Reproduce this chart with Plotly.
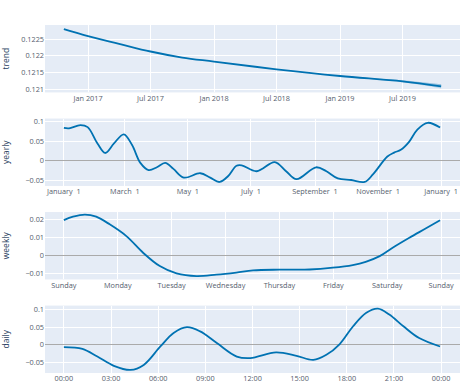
import pandas as pd
import plotly.graph_objects as go
from plotly.subplots import make_subplots

# ---- data ----
trend_dates = ["2016-10-23", "2017-01-01", "2017-04-01", "2017-07-01", "2017-10-01",
               "2018-01-01", "2018-07-01", "2019-01-01", "2019-07-01", "2019-10-21"]
trend_vals = [0.12280, 0.12259, 0.12236, 0.12213, 0.12195,
              0.12183, 0.12160, 0.12140, 0.12124, 0.12109]
trend_upper = [0.12280, 0.12259, 0.12236, 0.12213, 0.12195,
               0.12183, 0.12160, 0.12141, 0.12127, 0.12115]
trend_lower = [0.12280, 0.12259, 0.12236, 0.12213, 0.12195,
               0.12183, 0.12160, 0.12139, 0.12121, 0.12103]

yearly_day = [0, 5, 16, 23, 32.5, 40, 48.5, 58, 66, 74, 82, 90, 98, 106, 116, 132, 141.6,
              150.6, 159, 167, 172, 186.5, 204, 215, 225, 244, 254, 265, 278, 291, 299,
              313, 319.5, 326, 334, 342, 352, 364]
yearly_val = [0.083, 0.082, 0.090, 0.085, 0.044, 0.020, 0.044, 0.067, 0.040, -0.005, -0.023,
              -0.016, -0.005, -0.020, -0.042, -0.031, -0.042, -0.053, -0.038, -0.012,
              -0.011, -0.026, -0.003, -0.026, -0.046, -0.016, -0.026, -0.044, -0.048,
              -0.053, -0.034, 0.011, 0.021, 0.028, 0.048, 0.079, 0.096, 0.084]

weekly_day = [0, 0.17, 0.39, 0.6, 0.85, 1.16, 1.47, 1.78, 2.09, 2.46, 2.83, 3.2, 3.51, 4.0,
              4.56, 4.99, 5.36, 5.6, 5.86, 6.1, 6.41, 6.72, 6.98]
weekly_val = [0.0198, 0.0217, 0.0229, 0.0217, 0.0174, 0.0108, 0.0015, -0.006, -0.0101,
              -0.0116, -0.0108, -0.0096, -0.0084, -0.0080, -0.0079, -0.0069, -0.0054,
              -0.0036, -0.0004, 0.0043, 0.0099, 0.0152, 0.0197]

daily_hour = [0, 1.18, 2.13, 3.18, 4.24, 5.08, 6.14, 6.98, 7.83, 8.67, 9.73, 11.0, 11.86,
              13.5, 14.8, 15.87, 16.7, 17.55, 18.4, 19.24, 19.98, 20.7, 21.6, 22.6, 23.93]
daily_val = [-0.0066, -0.0115, -0.0336, -0.060, -0.0718, -0.0575, -0.0049, 0.0336, 0.050,
             0.038, 0.0049, -0.0336, -0.038, -0.022, -0.0316, -0.043, -0.0287, 0.002,
             0.0526, 0.091, 0.1026, 0.086, 0.0526, 0.019, -0.005]

names = ["trend", "yearly", "weekly", "daily"]

# ---- build ----
start = pd.Timestamp("2017-01-01")
yearly_x = [start + pd.Timedelta(days=d) for d in yearly_day]
weekly_x = [start + pd.Timedelta(days=d) for d in weekly_day]
daily_x = [start + pd.Timedelta(hours=h) for h in daily_hour]
trend_x = pd.to_datetime(trend_dates)

color = "#0072B2"
err = "rgba(0, 114, 178, 0.2)"
lw = 1.8

fig = make_subplots(rows=4, cols=1, vertical_spacing=0.075)

fig.add_trace(go.Scatter(x=trend_x, y=trend_vals, mode="lines",
                         line=dict(color=color, width=lw, shape="spline")), row=1, col=1)
fig.add_trace(go.Scatter(x=trend_x, y=trend_upper, mode="lines",
                         line=dict(color=err, width=0, shape="spline"),
                         fill="tonexty", fillcolor=err, hoverinfo="skip"), row=1, col=1)
fig.add_trace(go.Scatter(x=trend_x, y=trend_lower, mode="lines",
                         line=dict(color=err, width=0, shape="spline"),
                         fill="tonexty", fillcolor=err, hoverinfo="skip"), row=1, col=1)

fig.add_trace(go.Scatter(x=yearly_x, y=yearly_val, mode="lines",
                         line=dict(color=color, width=lw, shape="spline")), row=2, col=1)
fig.add_trace(go.Scatter(x=weekly_x, y=weekly_val, mode="lines",
                         line=dict(color=color, width=lw, shape="spline")), row=3, col=1)
fig.add_trace(go.Scatter(x=daily_x, y=daily_val, mode="lines",
                         line=dict(color=color, width=lw, shape="spline")), row=4, col=1)

def margin_range(xs):
    lo, hi = min(xs), max(xs)
    m = (hi - lo) * 0.05
    return [lo - m, hi + m]

tfont = dict(size=7.3, color="#55606e")
# trend axes
tr = margin_range(list(trend_x))
fig.update_xaxes(row=1, col=1, type="date", range=tr, dtick="M6", tick0="2017-01-01",
                 tickformat="%b %Y")
fig.update_yaxes(row=1, col=1, range=[0.12091, 0.12292], dtick=0.0005)

yr_end = start + pd.Timedelta(days=365)
ym = pd.Timedelta(days=365 * 0.05)
fig.update_xaxes(row=2, col=1, type="date", range=[start - ym, yr_end + ym], dtick="M2",
                 tick0="2017-01-01", tickformat="%B %e")
fig.update_yaxes(row=2, col=1, range=[-0.063, 0.1067], dtick=0.05)

wk_end = start + pd.Timedelta(days=7)
wm = pd.Timedelta(days=7 * 0.05)
fig.update_xaxes(row=3, col=1, type="date", range=[start - wm, wk_end + wm],
                 dtick=86400000, tick0="2017-01-01", tickformat="%A")
fig.update_yaxes(row=3, col=1, range=[-0.0135, 0.0243], dtick=0.01)

d_end = start + pd.Timedelta(days=1)
dm = pd.Timedelta(hours=24 * 0.05)
fig.update_xaxes(row=4, col=1, type="date", range=[start - dm, d_end + dm],
                 dtick=3 * 3600000, tick0="2017-01-01", tickformat="%H:%M")
fig.update_yaxes(row=4, col=1, range=[-0.0805, 0.1115], dtick=0.05)

for i, n in enumerate(names):
    fig.update_yaxes(row=i + 1, col=1,
                     title=dict(text=n, font=dict(size=8.5, color="#2a3f5f"), standoff=14),
                     zerolinecolor="#AAA", zerolinewidth=1, tickfont=tfont, automargin=False)
    fig.update_xaxes(row=i + 1, col=1, tickfont=tfont, automargin=False)

fig.update_layout(
    width=474, height=386, showlegend=False,
    margin=dict(l=45, r=14, t=25, b=13),
    font=dict(family="Open Sans", size=7, color="#2a3f5f"),
    template="plotly",
)

fig.write_html("out.html", config={"displayModeBar": False},
               post_script="document.body.style.margin='0';")
